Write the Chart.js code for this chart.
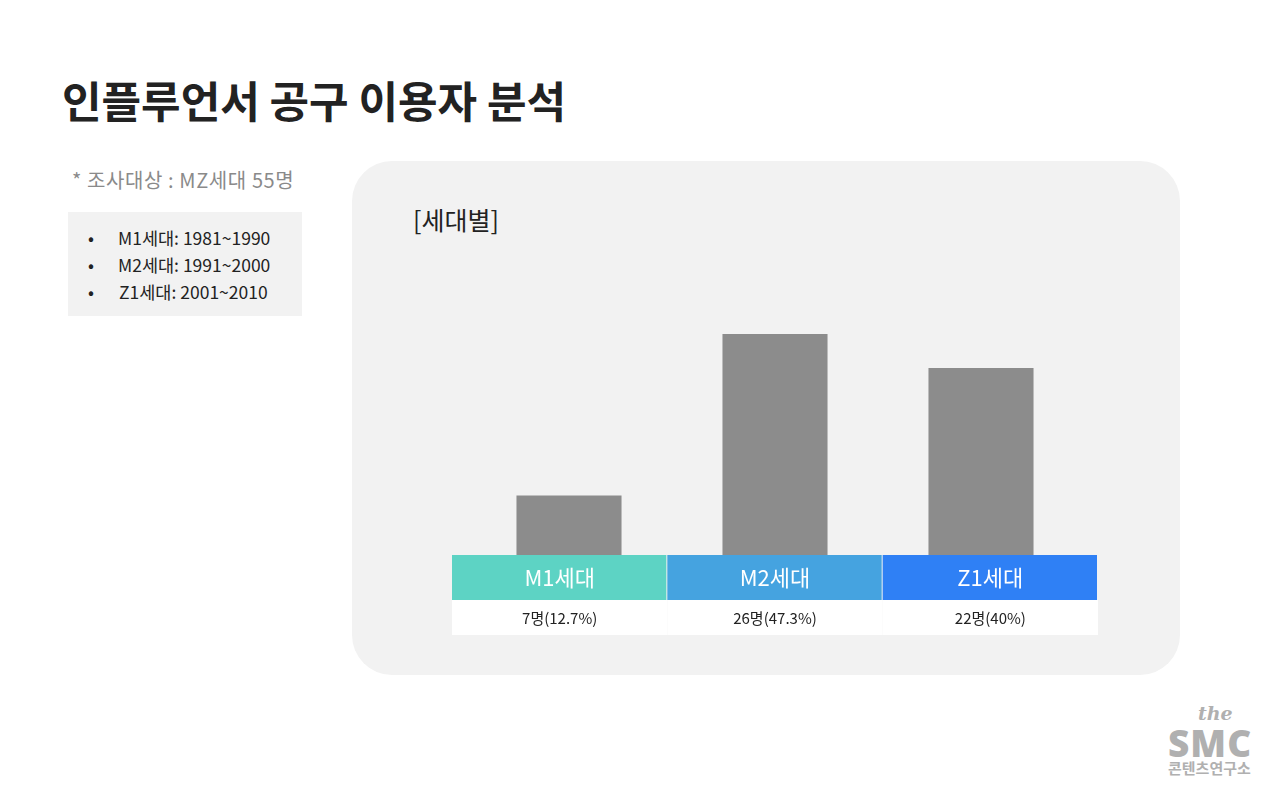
<!DOCTYPE html>
<html><head><meta charset="utf-8">
<script src="https://cdn.jsdelivr.net/npm/chart.js@4/dist/chart.umd.min.js"></script>
<style>
body{margin:0;width:1280px;height:793px;background:#fff;font-family:"Noto Sans CJK KR","Noto Sans",sans-serif;position:relative;overflow:hidden}
.abs{position:absolute}
</style></head><body>
<div class="abs" style="left:62px;top:68px;font-size:43px;font-weight:700;color:#222;letter-spacing:0px">인플루언서 공구 이용자 분석</div>
<div class="abs" style="left:72px;top:165px;font-size:20px;color:#8a8a8a;letter-spacing:0.6px">* 조사대상 : MZ세대 55명</div>
<div class="abs" style="left:68px;top:212px;width:234px;height:104px;background:#f2f2f2"></div>
<div class="abs" style="left:88px;top:224px;font-size:17.5px;color:#222;line-height:27px">
<div><span style="display:inline-block;width:30px">•</span>M1세대: 1981~1990</div>
<div><span style="display:inline-block;width:30px">•</span>M2세대: 1991~2000</div>
<div><span style="display:inline-block;width:31px">•</span>Z1세대: 2001~2010</div></div>
<div class="abs" style="left:352px;top:161px;width:828px;height:514px;background:#f2f2f2;border-radius:40px"></div>
<div class="abs" style="left:413px;top:201px;font-size:25px;color:#222">[세대별]</div>
<div class="abs" style="left:452px;top:300px;width:646px;height:335px"><canvas id="c"></canvas></div>
<div class="abs" style="left:1198px;top:702px;font-size:19px;font-style:italic;font-weight:700;color:#b0b0b0;font-family:'DejaVu Serif',serif">the</div>
<div class="abs" style="left:1168px;top:717px;font-size:37px;font-weight:900;color:#b0b0b0;font-family:'Noto Sans';letter-spacing:1px">SMC</div>
<div class="abs" style="left:1168px;top:757px;font-size:15px;font-weight:700;color:#b0b0b0">콘텐츠연구소</div>
<script>
const categories=["M1세대","M2세대","Z1세대"];
const counts=[7,26,22];
const rowLabels=["7명(12.7%)","26명(47.3%)","22명(40%)"];
const headerColors=["#5dd3c4","#45a3e0","#2f80f5"];
const tablePlugin={id:"tbl",afterDraw(ch){
 const c=ch.ctx,a=ch.chartArea,n=categories.length,L=0,R=ch.width,w=(R-L)/n;
 for(let i=0;i<n;i++){
  const l=L+i*w,cx=l+w/2;
  c.fillStyle=headerColors[i];c.fillRect(l,a.bottom,w-1,45);
  c.fillStyle="#fff";c.fillRect(l,a.bottom+45,w,35);
  c.textAlign="center";c.textBaseline="middle";
  c.fillStyle="#fff";c.font='22px "Noto Sans CJK KR"';c.fillText(categories[i],cx,a.bottom+23);
  c.fillStyle="#222";c.font='15px "Noto Sans CJK KR"';c.fillText(rowLabels[i],cx,a.bottom+63);
 }}};
new Chart(document.getElementById("c"),{type:"bar",
 data:{labels:categories,datasets:[{data:counts,backgroundColor:"#8c8c8c",categoryPercentage:1,barPercentage:0.51}]},
 options:{responsive:true,maintainAspectRatio:false,animation:false,
  layout:{padding:{bottom:80,left:14,right:14}},
  plugins:{legend:{display:false},tooltip:{enabled:false}},
  scales:{x:{display:false},y:{display:false,min:0,max:30}}},
 plugins:[tablePlugin]});
</script></body></html>
